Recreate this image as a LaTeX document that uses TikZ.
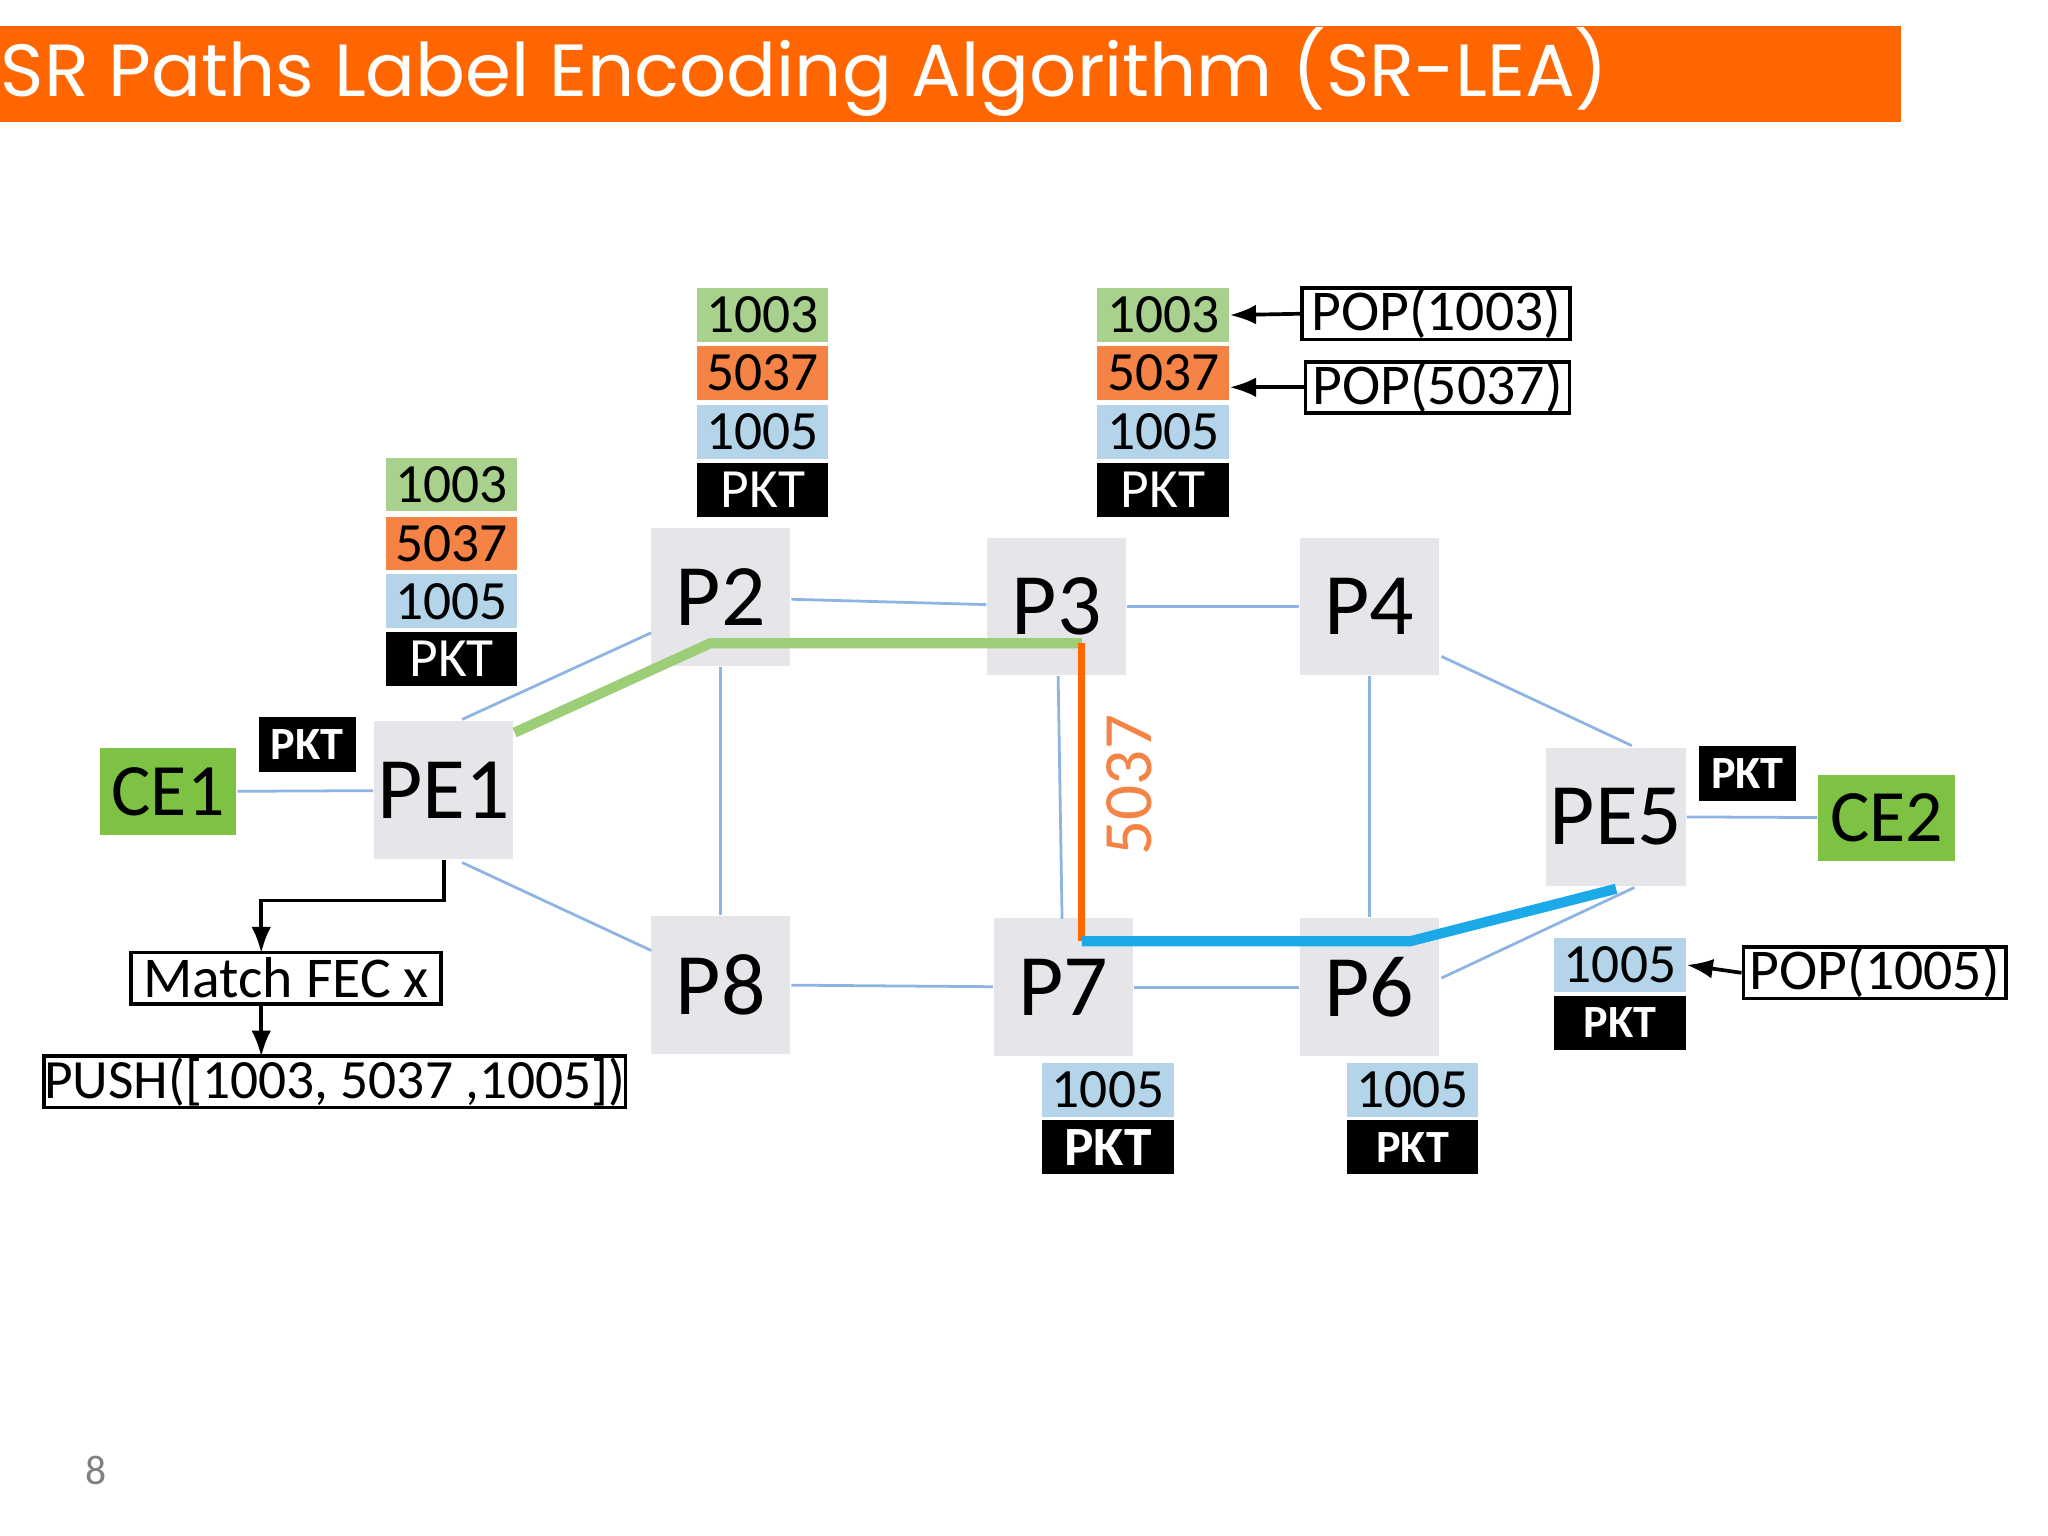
\documentclass[tikz,border=0pt]{standalone}
\usepackage{fontspec}
\setmainfont{Carlito}
\newfontfamily\titlefont{Poppins}
\usetikzlibrary{arrows.meta}
\definecolor{srorange}{HTML}{FF6600}
\definecolor{boxgrey}{HTML}{E6E6EA}
\definecolor{cegreen}{HTML}{7DC242}
\definecolor{lblgreen}{HTML}{A9D18E}
\definecolor{lblorange}{HTML}{F58345}
\definecolor{lblblue}{HTML}{B4D4EA}
\definecolor{linkblue}{HTML}{8FB4E3}
\definecolor{pathblue}{HTML}{1BA9E8}
\tikzset{
  router/.style={fill=boxgrey, minimum width=1.06cm, minimum height=1.05cm, inner sep=0, font=\fontsize{19}{19}\selectfont},
  ce/.style={fill=cegreen, minimum width=1.04cm, minimum height=0.66cm, inner sep=0, font=\fontsize{16}{16}\selectfont},
  lbl/.style={minimum width=1cm, minimum height=0.41cm, inner sep=0, font=\fontsize{12}{12}\selectfont},
  pkt/.style={lbl, fill=black, text=white},
  smallpkt/.style={fill=black, text=white, minimum width=0.74cm, minimum height=0.42cm, inner sep=0, font=\bfseries\fontsize{10}{10}\selectfont},
  opbox/.style={draw, thick, inner sep=0, minimum height=0.39cm, font=\fontsize{12.5}{12.5}\selectfont},
  link/.style={linkblue, line width=0.6pt},
  arr/.style={-{Latex[length=2mm]}, thick}
}
\begin{document}
\begin{tikzpicture}[x=0.01cm, y=-0.01cm]
  \useasboundingbox (0,0) rectangle (1560,1170);
  % title
  \fill[srorange] (0,20) rectangle (1448,93);
  \node[anchor=west, inner sep=0, text=white, font=\titlefont\fontsize{16}{16}\selectfont] (title) at (0,55) {SR Paths Label Encoding Algorithm (SR-LEA)};

  % routers
  \node[router] (P2) at (549,455) {P2};
  \node[router] (P3) at (805,462) {P3};
  \node[router] (P4) at (1043,462) {P4};
  \node[router] (PE1) at (338,602) {PE1};
  \node[router] (P8) at (549,750) {P8};
  \node[router] (P7) at (810,752) {P7};
  \node[router] (P6) at (1043,752) {P6};
  \node[router] (PE5) at (1231,622) {PE5};
  \node[ce] (CE1) at (128,603) {CE1};
  \node[ce] (CE2) at (1437,623) {CE2};

  % links
  \draw[link] (CE1) -- (PE1);
  \draw[link] (PE5) -- (CE2);
  \draw[link] (352,548) -- (496,482);
  \draw[link] (352,657) -- (496,724);
  \draw[link] (P2) -- (P3);
  \draw[link] (P3) -- (P4);
  \draw[link] (P2) -- (P8);
  \draw[link] (806,515) -- (809,700);
  \draw[link] (P4) -- (P6);
  \draw[link] (P8) -- (P7);
  \draw[link] (P7) -- (P6);
  \draw[link] (1098,500) -- (1243,568);
  \draw[link] (1098,745) -- (1245,676);

  % sr path
  \draw[lblgreen!70!cegreen, line width=2.2pt] (392,558) -- (541,490) -- (824,490);
  \draw[srorange, line width=1.6pt] (824,490) -- (824,717);
  \draw[pathblue, line width=2.2pt] (824,717) -- (1074,717) -- (1231,677);
  \node[rotate=90, text=lblorange, font=\fontsize{15}{15}\selectfont] (segl) at (860,598) {5037};

  % label stacks
  \node[lbl, fill=lblgreen] (a1) at (344,369) {1003};
  \node[lbl, fill=lblorange] (a2) at (344,414) {5037};
  \node[lbl, fill=lblblue] (a3) at (344,458) {1005};
  \node[pkt] (a4) at (344,502) {PKT};
  \node[lbl, fill=lblgreen] (b1) at (581,240) {1003};
  \node[lbl, fill=lblorange] (b2) at (581,284) {5037};
  \node[lbl, fill=lblblue] (b3) at (581,329) {1005};
  \node[pkt] (b4) at (581,373) {PKT};
  \node[lbl, fill=lblgreen] (c1) at (886,240) {1003};
  \node[lbl, fill=lblorange] (c2) at (886,284) {5037};
  \node[lbl, fill=lblblue] (c3) at (886,329) {1005};
  \node[pkt] (c4) at (886,373) {PKT};
  \node[lbl, fill=lblblue] (d1) at (844,830) {1005};
  \node[pkt, font=\bfseries\fontsize{12}{12}\selectfont] (d2) at (844,874) {PKT};
  \node[lbl, fill=lblblue] (e1) at (1076,830) {1005};
  \node[pkt, font=\bfseries\fontsize{10}{10}\selectfont] (e2) at (1076,874) {PKT};
  \node[lbl, fill=lblblue] (f1) at (1234,735) {1005};
  \node[pkt, font=\bfseries\fontsize{10}{10}\selectfont] (f2) at (1234,779) {PKT};
  \node[smallpkt] (k1) at (234,567) {PKT};
  \node[smallpkt] (k2) at (1331,589) {PKT};

  % operations
  \node[opbox, minimum width=2.04cm] (pop1) at (1094,239) {POP(1003)};
  \node[opbox, minimum width=2.01cm] (pop2) at (1095,295) {POP(5037)};
  \node[opbox, minimum width=2.0cm] (pop3) at (1428,741) {POP(1005)};
  \draw[arr] (pop1.west) -- (c1.east);
  \draw[arr] (pop2.west) -- (c2.east |- pop2.west);
  \draw[arr] (pop3.west) -- (f1.east);
  \node[opbox, minimum width=2.36cm] (match) at (218,745) {Match FEC x};
  \node[opbox, minimum width=4.33cm, font=\fontsize{12}{12}\selectfont] (push) at (255,824) {PUSH([1003, 5037 ,1005])};
  \coordinate (turn) at (338,686);
  \draw[arr] (PE1.south) -- (turn) -- (199,686) -- (199,726);
  \draw[arr] (199,765) -- (199,805);

  \node[text=gray, font=\fontsize{9}{9}\selectfont] (pagenum) at (73,1120) {8};
\end{tikzpicture}
\end{document}
